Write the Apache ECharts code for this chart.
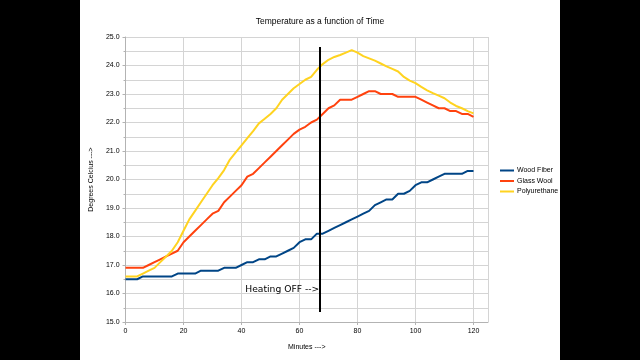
<!DOCTYPE html>
<html>
<head>
<meta charset="utf-8">
<script src="https://cdn.jsdelivr.net/npm/echarts@6/dist/echarts.min.js"></script>
<style>
html,body{margin:0;padding:0;background:#000;width:640px;height:360px;overflow:hidden;}
#chart{position:absolute;left:80px;top:0;width:480px;height:360px;background:#fff;}
</style>
</head>
<body>
<div id="chart"></div>
<script>
var minutes = [0,2,4,6,8,10,12,14,16,18,20,22,24,26,28,30,32,34,36,38,40,42,44,46,48,50,52,54,56,58,60,62,64,66,68,70,72,74,76,78,80,82,84,86,88,90,92,94,96,98,100,102,104,106,108,110,112,114,116,118,120];
var woodFiber = [16.5,16.5,16.5,16.6,16.6,16.6,16.6,16.6,16.6,16.7,16.7,16.7,16.7,16.8,16.8,16.8,16.8,16.9,16.9,16.9,17.0,17.1,17.1,17.2,17.2,17.3,17.3,17.4,17.5,17.6,17.8,17.9,17.9,18.1,18.1,18.2,18.3,18.4,18.5,18.6,18.7,18.8,18.9,19.1,19.2,19.3,19.3,19.5,19.5,19.6,19.8,19.9,19.9,20.0,20.1,20.2,20.2,20.2,20.2,20.3,20.3];
var glassWool = [16.9,16.9,16.9,16.9,17.0,17.1,17.2,17.3,17.4,17.5,17.8,18.0,18.2,18.4,18.6,18.8,18.9,19.2,19.4,19.6,19.8,20.1,20.2,20.4,20.6,20.8,21.0,21.2,21.4,21.6,21.75,21.85,22.0,22.1,22.3,22.5,22.6,22.8,22.8,22.8,22.9,23.0,23.1,23.1,23.0,23.0,23.0,22.9,22.9,22.9,22.9,22.8,22.7,22.6,22.5,22.5,22.4,22.4,22.3,22.3,22.2];
var polyurethane = [16.6,16.6,16.6,16.7,16.8,16.9,17.1,17.3,17.5,17.8,18.2,18.6,18.9,19.2,19.5,19.8,20.05,20.33,20.7,20.95,21.2,21.45,21.7,21.97,22.13,22.3,22.5,22.8,23.0,23.2,23.35,23.5,23.6,23.85,24.05,24.2,24.3,24.37,24.45,24.54,24.45,24.33,24.25,24.17,24.07,23.97,23.88,23.79,23.6,23.47,23.38,23.25,23.13,23.03,22.94,22.85,22.7,22.58,22.5,22.4,22.32];
var seriesNames = ['Wood Fiber','Glass Wool','Polyurethane'];
var seriesColors = ['#004586','#ff420e','#ffd320'];
var heatingOffMinute = 67;
var heatingLineRange = [15.35, 24.65];
var annotationText = 'Heating OFF -->';
var annotationAt = [66.8, 16.15];

function pairs(vals){ return minutes.map(function(t,i){ return [t, vals[i]]; }); }
var allData = [woodFiber, glassWool, polyurethane];

var chart = echarts.init(document.getElementById('chart'));
var series = allData.map(function(vals, i){
  var s = {
    name: seriesNames[i], type: 'line', data: pairs(vals),
    showSymbol: false, symbol: 'none', smooth: false,
    lineStyle: {color: seriesColors[i], width: 2},
    itemStyle: {color: seriesColors[i]},
    emphasis: {disabled: true}, animation: false
  };
  if (i === 0) {
    s.markLine = {
      silent: true, symbol: ['none','none'], animation: false,
      label: {show: false},
      lineStyle: {color: '#000', width: 2, type: 'solid'},
      emphasis: {disabled: true},
      data: [[{coord: [heatingOffMinute, heatingLineRange[0]]}, {coord: [heatingOffMinute, heatingLineRange[1]]}]]
    };
    s.markPoint = {
      silent: true, symbol: 'circle', symbolSize: 0, animation: false,
      data: [{coord: annotationAt, value: annotationText}],
      label: {show: true, position: 'left', distance: 0, formatter: annotationText,
        color: '#000', fontFamily: 'DejaVu Sans', fontSize: 9.2}
    };
  }
  return s;
});

chart.setOption({
  animation: false,
  backgroundColor: '#fff',
  textStyle: {fontFamily: 'Liberation Sans'},
  title: {text: 'Temperature as a function of Time', left: 'center', top: 12,
    textStyle: {fontFamily: 'Liberation Sans', fontSize: 8.5, fontWeight: 'normal', color: '#000'}},
  legend: {
    orient: 'vertical', left: 420, top: 167, padding: 0, itemWidth: 14, itemHeight: 2, itemGap: 3.5,
    icon: 'rect', data: seriesNames,
    textStyle: {fontFamily: 'Liberation Sans', fontSize: 7, color: '#000', padding: [0,0,0,-2]}
  },
  grid: {left: 45, right: 72, top: 37, bottom: 38, containLabel: false},
  xAxis: {
    type: 'value', min: 0, max: 125, interval: 20,
    name: 'Minutes --->', nameLocation: 'middle', nameGap: 22,
    nameTextStyle: {fontFamily: 'Liberation Sans', fontSize: 7, color: '#000'},
    axisLine: {show: true, lineStyle: {color: '#b3b3b3', width: 1}},
    axisTick: {show: true, length: 3, lineStyle: {color: '#b3b3b3'}},
    axisLabel: {fontFamily: 'Liberation Sans', fontSize: 7, color: '#000', margin: 6, showMaxLabel: false},
    splitLine: {show: true, lineStyle: {color: '#d4d4d4', width: 1}}
  },
  yAxis: {
    type: 'value', min: 15, max: 25, interval: 1,
    name: 'Degrees Celcius --->', nameLocation: 'middle', nameGap: 28,
    nameTextStyle: {fontFamily: 'Liberation Sans', fontSize: 7, color: '#000'},
    axisLine: {show: true, lineStyle: {color: '#b3b3b3', width: 1}},
    axisTick: {show: true, length: 3, lineStyle: {color: '#b3b3b3'}},
    minorTick: {show: true, splitNumber: 2, length: 2, lineStyle: {color: '#b3b3b3'}},
    axisLabel: {fontFamily: 'Liberation Sans', fontSize: 7, color: '#000', margin: 6,
      formatter: function(v){ return v.toFixed(1); }},
    splitLine: {show: true, lineStyle: {color: '#d4d4d4', width: 1}},
    minorSplitLine: {show: true, lineStyle: {color: '#d4d4d4', width: 1}}
  },
  series: series
});
</script>
</body>
</html>
